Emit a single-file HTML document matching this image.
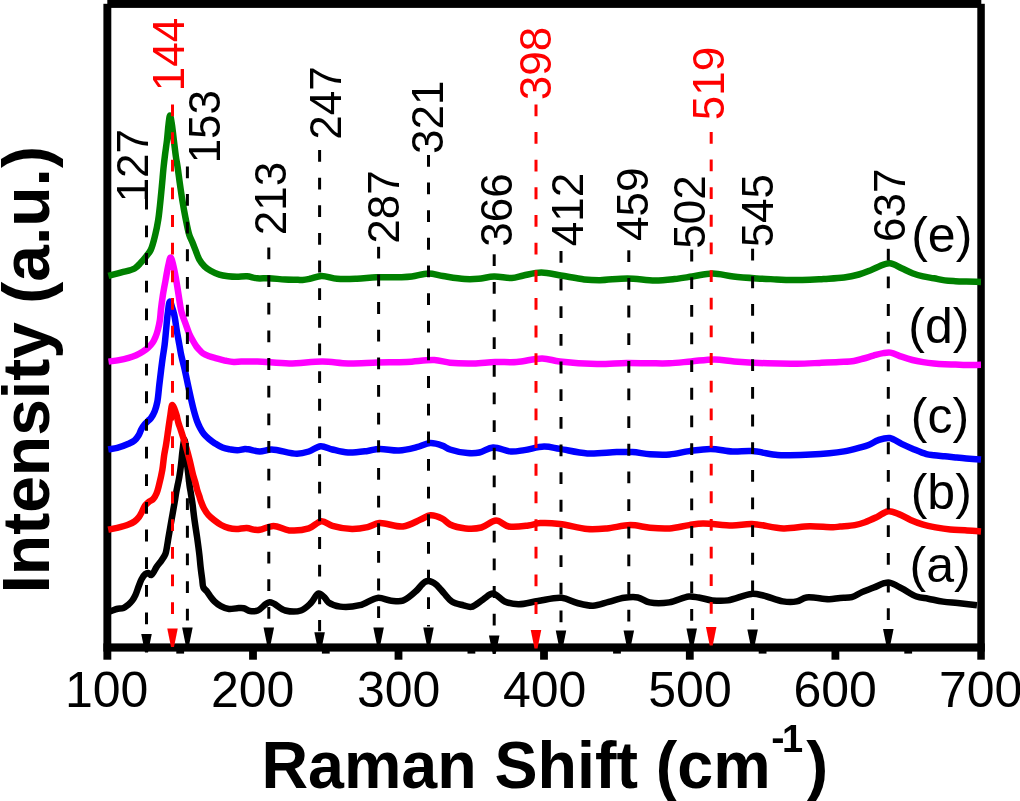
<!DOCTYPE html>
<html><head><meta charset="utf-8"><title>Raman spectra</title>
<style>html,body{margin:0;padding:0;background:#fff;}svg{display:block;}text{font-family:"Liberation Sans",sans-serif;}</style></head>
<body><svg width="1020" height="801" viewBox="0 0 1020 801">
<rect width="1020" height="801" fill="#fff"/>
<g id="frame"><rect x="107.3" y="-1" width="874" height="8.9" fill="#000"/><rect x="103.4" y="3.8" width="7.9" height="655.9" fill="#000"/><rect x="977.3" y="3.8" width="7.5" height="655.9" fill="#000"/><rect x="103.4" y="643.4" width="881.4" height="8.2" fill="#000"/><rect x="249.10" y="648" width="7.8" height="11.7" fill="#000"/><rect x="394.60" y="648" width="7.8" height="11.7" fill="#000"/><rect x="540.10" y="648" width="7.8" height="11.7" fill="#000"/><rect x="685.90" y="648" width="7.8" height="11.7" fill="#000"/><rect x="831.50" y="648" width="7.8" height="11.7" fill="#000"/><rect x="176.30" y="648" width="7.8" height="5.6" fill="#000"/><rect x="321.90" y="648" width="7.8" height="5.6" fill="#000"/><rect x="467.50" y="648" width="7.8" height="5.6" fill="#000"/><rect x="613.10" y="648" width="7.8" height="5.6" fill="#000"/><rect x="758.70" y="648" width="7.8" height="5.6" fill="#000"/><rect x="904.30" y="648" width="7.8" height="5.6" fill="#000"/></g>
<g id="curves"><path d="M106.50,612.00 C108.17,611.63 109.83,611.39 111.50,610.90 C113.23,610.40 114.83,609.49 116.70,609.00 C118.79,608.45 121.54,608.67 123.50,607.90 C125.24,607.22 126.57,606.09 128.00,604.90 C129.55,603.62 131.16,602.04 132.40,600.40 C133.61,598.80 134.48,597.17 135.40,595.20 C136.51,592.82 137.38,589.66 138.40,587.00 C139.38,584.44 140.18,581.72 141.40,579.50 C142.49,577.51 143.84,575.24 145.20,574.20 C146.15,573.48 147.22,573.00 148.20,573.10 C149.25,573.20 150.25,575.24 151.30,575.00 C153.02,574.61 154.79,569.47 156.60,566.90 C158.33,564.45 160.37,562.18 161.90,559.90 C163.25,557.89 164.54,556.19 165.40,554.00 C166.34,551.60 166.59,548.72 167.10,546.00 C167.63,543.19 167.94,540.76 168.50,537.40 C169.30,532.61 170.49,525.81 171.50,520.00 C172.52,514.17 173.75,507.53 174.60,502.50 C175.24,498.71 175.64,495.59 176.20,492.50 C176.68,489.82 177.19,487.54 177.70,485.00 C178.22,482.38 178.80,479.94 179.30,477.00 C179.91,473.41 180.48,469.23 181.00,465.00 C181.59,460.28 181.97,454.55 182.60,450.00 C183.13,446.18 183.82,439.50 184.40,439.50 C184.98,439.50 185.63,446.07 186.10,450.00 C186.69,454.98 186.94,462.39 187.40,467.00 C187.72,470.17 188.07,472.18 188.40,475.00 C188.77,478.15 189.07,481.86 189.50,485.00 C189.88,487.82 190.35,490.22 190.80,493.00 C191.29,496.03 191.78,498.85 192.30,502.50 C193.00,507.44 193.70,514.18 194.50,520.00 C195.30,525.81 196.28,531.58 197.10,537.40 C197.92,543.25 198.79,549.66 199.40,555.00 C199.91,559.43 200.13,563.14 200.60,567.20 C201.07,571.27 201.69,575.75 202.20,579.40 C202.62,582.38 202.40,585.38 203.40,587.50 C204.21,589.22 205.87,590.06 207.00,591.50 C208.18,593.01 209.10,594.80 210.30,596.40 C211.55,598.07 212.78,599.76 214.40,601.30 C216.21,603.02 218.43,604.83 220.80,606.10 C223.27,607.42 226.24,608.66 229.00,609.00 C231.67,609.32 234.55,608.33 237.10,608.20 C239.38,608.09 241.49,607.76 243.60,608.20 C245.79,608.66 247.71,610.60 250.00,611.00 C252.42,611.43 255.07,611.45 257.80,610.50 C261.50,609.21 265.30,602.57 269.60,602.30 C274.38,602.00 279.90,609.17 285.30,610.50 C290.38,611.75 296.58,611.97 301.00,610.50 C304.90,609.21 307.88,606.03 310.80,603.20 C313.76,600.34 316.00,593.80 318.60,593.40 C320.56,593.10 322.83,595.86 324.50,597.40 C326.06,598.85 326.49,600.92 328.40,602.30 C331.11,604.25 335.69,605.97 340.20,606.60 C345.84,607.39 353.55,606.67 359.80,605.20 C365.97,603.75 371.90,598.43 377.50,597.90 C382.29,597.45 386.79,600.25 391.20,600.70 C395.23,601.11 399.05,601.97 402.90,600.70 C407.57,599.16 413.40,593.54 416.70,590.50 C418.85,588.51 419.98,586.55 421.50,585.00 C422.72,583.75 423.75,582.46 425.00,581.80 C426.07,581.23 427.25,580.98 428.40,581.00 C429.59,581.02 430.81,581.47 432.00,582.00 C433.34,582.59 434.81,583.55 436.00,584.50 C437.13,585.40 437.89,586.31 439.00,587.50 C440.50,589.12 442.19,591.31 444.10,593.40 C446.37,595.89 448.68,599.43 451.80,601.40 C455.09,603.48 459.96,604.35 463.50,605.30 C466.37,606.06 468.62,607.42 471.40,606.90 C475.05,606.22 479.36,601.73 483.10,599.40 C486.50,597.29 489.51,593.42 492.90,593.50 C496.68,593.59 500.43,599.60 504.70,601.40 C508.94,603.19 513.41,604.20 518.40,604.30 C524.34,604.42 531.15,602.04 538.00,601.00 C545.49,599.86 554.60,597.15 561.60,597.80 C567.43,598.34 572.02,601.68 577.30,603.00 C582.49,604.30 587.80,605.89 593.00,605.70 C598.23,605.50 603.39,603.11 608.60,601.80 C613.83,600.48 619.23,598.49 624.30,597.80 C628.93,597.17 633.53,596.70 637.80,597.50 C641.95,598.28 645.07,601.50 649.60,602.40 C655.21,603.52 662.74,603.35 669.20,602.40 C675.81,601.43 683.34,597.02 688.80,596.50 C692.59,596.14 695.07,596.95 698.60,597.50 C702.82,598.16 707.63,599.90 712.40,600.40 C717.41,600.92 722.32,601.17 728.00,600.40 C735.11,599.44 745.06,594.33 751.60,593.90 C756.14,593.60 758.94,594.55 763.30,595.50 C769.04,596.75 776.88,600.51 782.90,601.40 C787.84,602.13 792.56,602.19 796.70,601.40 C800.32,600.71 802.47,598.12 806.50,597.50 C812.42,596.59 823.03,599.34 829.20,599.20 C833.47,599.10 836.32,598.23 840.00,597.90 C843.84,597.56 848.10,598.19 851.80,597.20 C855.43,596.23 858.44,593.67 862.00,592.10 C865.75,590.45 870.01,589.13 873.80,587.60 C877.36,586.16 881.17,583.97 884.10,583.20 C886.14,582.66 887.39,582.25 889.50,582.60 C892.83,583.15 897.55,586.23 901.80,588.40 C906.52,590.81 911.75,594.79 916.50,596.50 C920.50,597.94 924.07,597.91 928.20,598.70 C932.85,599.59 938.07,600.86 943.00,601.60 C947.87,602.33 952.39,602.54 957.60,603.10 C963.61,603.75 970.53,604.57 977.00,605.30" fill="none" stroke="#000" stroke-width="6.5" stroke-linejoin="round" stroke-linecap="butt"/><path d="M108.20,529.70 C111.20,529.07 114.05,528.59 117.20,527.80 C120.77,526.90 125.37,525.73 128.50,524.50 C130.86,523.57 132.73,522.77 134.50,521.50 C136.22,520.26 137.74,518.65 139.00,517.00 C140.23,515.38 141.02,513.53 142.00,511.70 C143.03,509.77 143.79,507.38 145.00,505.70 C146.07,504.22 147.35,503.11 148.70,502.00 C150.08,500.87 151.93,500.33 153.20,499.00 C154.58,497.55 155.58,495.60 156.50,493.50 C157.58,491.03 158.17,488.25 159.00,485.00 C160.10,480.72 161.43,475.02 162.30,470.00 C163.16,465.02 163.51,459.49 164.20,455.00 C164.76,451.32 165.40,448.68 166.00,445.00 C166.73,440.51 167.47,435.00 168.20,430.00 C168.93,425.00 169.64,419.49 170.40,415.00 C171.02,411.32 171.39,405.14 172.30,405.00 C172.91,404.90 173.84,407.50 174.50,409.00 C175.27,410.77 175.89,412.87 176.50,415.00 C177.17,417.35 177.59,420.02 178.30,422.50 C179.02,425.02 179.85,427.07 180.80,430.00 C182.14,434.14 184.03,439.99 185.50,445.00 C186.96,449.99 188.33,454.99 189.60,460.00 C190.86,464.99 191.98,470.79 193.10,475.00 C193.93,478.10 194.80,480.41 195.50,483.00 C196.15,485.40 196.54,487.77 197.20,490.00 C197.82,492.09 198.65,494.04 199.30,496.00 C199.92,497.87 200.29,499.58 201.00,501.50 C201.81,503.71 202.77,506.25 204.00,508.50 C205.26,510.82 206.74,513.21 208.50,515.20 C210.24,517.17 212.40,518.77 214.50,520.40 C216.63,522.04 218.83,523.73 221.20,525.00 C223.56,526.26 226.16,527.32 228.70,528.00 C231.16,528.66 233.49,529.04 236.20,529.10 C239.40,529.17 243.42,527.82 246.70,528.00 C249.64,528.16 252.60,529.54 255.00,529.80 C256.81,529.99 257.81,530.08 259.80,529.80 C263.22,529.32 268.78,525.90 273.50,525.90 C278.56,525.90 283.63,529.90 289.20,530.40 C295.32,530.94 303.12,530.20 308.80,528.40 C313.70,526.85 317.46,521.41 321.60,521.20 C325.30,521.01 328.18,524.67 332.40,525.90 C337.88,527.50 345.83,528.89 352.00,529.00 C357.49,529.10 362.81,528.19 367.60,527.10 C371.86,526.13 374.74,523.53 379.40,523.10 C385.84,522.51 395.72,527.32 402.90,526.50 C409.32,525.76 415.58,521.68 420.60,519.60 C424.36,518.04 426.94,515.54 430.40,515.30 C434.11,515.04 438.81,516.92 442.20,518.60 C445.23,520.10 446.76,522.95 450.00,524.50 C454.17,526.49 460.43,527.91 465.70,528.40 C470.90,528.89 476.37,528.77 481.40,527.50 C486.51,526.21 491.38,520.61 496.10,520.60 C500.49,520.59 503.98,525.56 508.80,526.50 C514.51,527.61 522.71,526.22 528.40,525.50 C532.85,524.94 535.75,523.46 540.20,523.10 C545.88,522.64 552.75,523.11 559.80,523.90 C568.22,524.85 578.88,528.36 587.30,529.00 C594.35,529.54 600.09,528.98 606.90,528.40 C614.39,527.76 622.92,525.11 630.40,525.10 C637.23,525.09 643.45,527.25 650.00,527.80 C656.52,528.35 663.09,528.84 669.60,528.40 C676.16,527.95 683.24,525.95 689.20,525.10 C694.16,524.39 697.46,523.63 702.90,523.50 C710.86,523.31 723.57,525.56 732.40,525.50 C739.60,525.45 744.72,523.68 752.00,523.90 C761.23,524.18 773.30,528.08 783.30,528.40 C792.43,528.69 801.08,526.46 809.60,526.30 C817.65,526.15 827.60,527.46 833.10,527.30 C836.09,527.21 837.27,526.88 840.00,526.60 C843.98,526.19 850.27,525.94 854.70,525.10 C858.47,524.38 861.49,523.45 865.00,522.20 C868.84,520.83 872.90,518.92 876.80,517.10 C880.74,515.26 884.65,511.57 888.50,511.20 C891.98,510.86 895.32,512.75 898.80,514.10 C902.67,515.60 906.62,518.27 910.60,520.00 C914.49,521.69 918.31,523.18 922.40,524.40 C926.64,525.66 931.07,526.55 935.60,527.40 C940.35,528.29 945.39,529.12 950.30,529.60 C955.19,530.08 960.00,529.99 965.00,530.30 C970.22,530.62 975.67,531.10 981.00,531.50" fill="none" stroke="#f00" stroke-width="6.5" stroke-linejoin="round" stroke-linecap="butt"/><path d="M108.20,449.40 C111.20,448.90 114.07,448.72 117.20,447.90 C120.79,446.96 125.37,445.22 128.50,443.80 C130.86,442.73 132.82,441.92 134.50,440.50 C136.13,439.13 137.36,437.35 138.50,435.50 C139.71,433.54 140.42,430.93 141.50,429.00 C142.44,427.32 143.39,425.86 144.50,424.50 C145.56,423.20 146.88,422.12 148.00,421.00 C149.04,419.96 150.04,419.29 151.00,418.00 C152.30,416.26 153.68,413.70 154.70,411.20 C155.83,408.42 156.59,405.57 157.30,402.00 C158.25,397.23 158.65,390.49 159.30,385.00 C159.91,379.84 160.50,374.82 161.10,370.00 C161.66,365.51 162.20,361.24 162.80,357.00 C163.37,352.92 164.07,349.23 164.60,345.00 C165.19,340.29 165.58,335.16 166.10,330.00 C166.65,324.51 167.08,318.10 167.80,313.00 C168.40,308.78 169.01,301.58 169.90,301.50 C170.59,301.44 171.57,305.78 172.30,308.00 C173.04,310.28 173.68,312.21 174.30,315.00 C175.20,319.04 175.85,325.00 176.70,330.00 C177.55,335.00 178.59,340.51 179.40,345.00 C180.06,348.67 180.43,351.34 181.20,355.00 C182.15,359.51 183.67,364.99 184.80,370.00 C185.93,374.99 186.92,380.00 188.00,385.00 C189.08,390.00 190.23,395.37 191.30,400.00 C192.22,404.01 193.02,407.61 194.00,411.20 C194.93,414.59 195.90,418.07 197.00,421.00 C197.93,423.48 198.87,425.56 200.00,427.70 C201.11,429.79 202.23,431.84 203.70,433.70 C205.22,435.62 207.11,437.38 209.00,439.00 C210.88,440.61 212.84,442.01 215.00,443.40 C217.32,444.89 219.93,446.59 222.50,447.60 C224.94,448.55 227.50,448.95 230.00,449.40 C232.46,449.84 234.92,450.36 237.40,450.30 C239.92,450.24 242.98,449.08 245.00,449.00 C246.32,448.95 246.87,449.10 248.30,449.30 C250.98,449.68 255.94,451.46 259.80,451.50 C263.70,451.54 266.92,449.50 271.60,449.50 C278.46,449.50 290.14,453.89 297.00,453.80 C301.68,453.74 304.94,452.73 308.80,451.50 C312.81,450.23 316.61,446.50 320.60,446.20 C324.48,445.91 328.17,448.50 332.40,449.50 C337.22,450.63 342.48,452.20 348.00,452.50 C354.14,452.83 361.90,451.61 367.60,450.90 C372.04,450.34 374.96,449.09 379.40,448.90 C385.10,448.65 392.65,450.83 399.00,450.50 C405.07,450.19 411.21,448.55 416.70,447.20 C421.60,446.00 425.98,443.18 430.40,443.00 C434.46,442.84 438.74,444.37 442.20,445.60 C445.14,446.64 446.79,448.40 450.00,449.50 C454.61,451.08 462.30,452.59 467.60,453.00 C471.90,453.33 475.38,453.30 479.40,452.50 C483.86,451.61 488.19,447.81 493.10,447.50 C498.57,447.15 505.25,451.17 510.80,451.50 C515.63,451.79 519.54,450.80 524.50,450.10 C530.46,449.26 537.92,446.70 544.10,446.60 C549.62,446.51 553.84,447.98 559.80,448.90 C567.69,450.12 577.95,452.85 587.30,453.40 C596.91,453.97 608.42,452.28 616.70,452.10 C622.75,451.97 627.03,451.78 632.40,452.10 C638.11,452.44 643.96,453.81 650.00,454.20 C656.35,454.61 663.09,454.91 669.60,454.40 C676.16,453.89 682.49,452.01 689.20,451.10 C696.21,450.15 703.60,448.83 710.80,448.90 C718.00,448.97 725.36,451.15 732.40,451.50 C739.08,451.83 745.06,450.64 752.00,451.10 C759.96,451.62 770.48,454.41 777.50,455.00 C782.39,455.41 784.67,455.29 790.00,455.20 C799.47,455.05 819.45,454.18 829.40,453.30 C835.50,452.76 839.22,452.29 844.10,451.40 C849.02,450.50 854.41,449.07 858.80,447.90 C862.41,446.94 865.39,446.27 868.60,445.00 C871.93,443.69 874.93,441.26 878.40,440.10 C881.95,438.91 885.97,437.48 889.70,438.00 C893.71,438.56 897.71,442.07 901.60,443.90 C905.27,445.62 908.55,447.10 912.40,448.70 C916.74,450.50 922.41,453.05 926.40,454.10 C929.24,454.85 931.17,454.86 933.90,455.20 C937.17,455.61 941.10,455.93 944.70,456.30 C948.30,456.67 951.90,457.05 955.50,457.40 C959.10,457.75 962.42,458.08 966.30,458.40 C970.82,458.78 976.10,459.13 981.00,459.50" fill="none" stroke="#00f" stroke-width="6.5" stroke-linejoin="round" stroke-linecap="butt"/><path d="M108.50,361.60 C112.00,361.10 115.58,360.75 119.00,360.10 C122.31,359.47 125.69,358.67 128.70,357.80 C131.38,357.02 133.80,356.26 136.20,355.20 C138.57,354.15 140.92,352.81 143.00,351.50 C144.89,350.30 146.61,349.17 148.20,347.70 C149.85,346.18 151.46,344.34 152.70,342.50 C153.87,340.76 154.68,338.98 155.50,337.00 C156.40,334.84 157.11,332.56 157.80,330.00 C158.61,326.98 159.38,323.35 159.90,320.00 C160.41,316.68 160.47,313.67 160.90,310.00 C161.42,305.50 162.12,299.99 162.90,295.00 C163.68,289.99 164.68,285.00 165.60,280.00 C166.52,275.00 167.41,269.12 168.40,265.00 C169.11,262.05 169.80,257.52 170.60,257.50 C171.40,257.48 172.39,262.04 173.20,265.00 C174.32,269.11 175.30,274.99 176.20,280.00 C177.10,284.99 177.80,290.00 178.60,295.00 C179.40,300.00 180.20,306.36 181.00,310.00 C181.47,312.13 181.79,313.09 182.40,315.00 C183.25,317.66 184.66,321.27 185.80,324.40 C186.94,327.52 188.02,330.98 189.25,333.75 C190.28,336.08 191.34,337.93 192.50,340.00 C193.68,342.10 194.97,344.48 196.25,346.25 C197.31,347.71 198.37,348.80 199.50,350.00 C200.62,351.19 201.56,352.42 203.00,353.40 C204.70,354.56 207.14,355.46 209.25,356.25 C211.31,357.02 213.39,357.51 215.50,358.10 C217.64,358.70 220.07,359.32 222.00,359.80 C223.55,360.19 224.59,360.49 226.20,360.80 C228.33,361.21 231.19,361.77 233.70,361.90 C236.19,362.03 238.23,361.67 241.20,361.60 C245.55,361.50 251.03,361.33 257.30,361.50 C266.14,361.74 278.45,363.39 289.20,363.40 C300.18,363.41 312.14,361.41 322.50,361.50 C331.57,361.58 339.19,363.21 348.00,363.40 C357.47,363.61 367.67,362.73 377.50,362.50 C387.31,362.27 397.28,362.42 406.90,362.00 C416.20,361.60 426.45,359.73 434.30,360.10 C440.28,360.38 444.22,362.14 450.00,362.70 C457.03,363.38 465.83,363.53 473.50,363.40 C480.85,363.27 487.90,362.23 495.10,362.00 C502.30,361.77 509.22,362.51 516.70,362.00 C524.87,361.44 534.49,358.38 542.20,358.50 C548.62,358.60 552.82,360.67 559.80,361.50 C569.88,362.69 585.31,363.81 597.00,364.00 C607.40,364.17 617.22,363.10 626.50,363.00 C634.78,362.91 642.52,363.25 650.00,363.30 C656.83,363.34 662.91,363.59 669.60,363.30 C676.63,362.99 683.85,362.04 691.20,361.40 C698.87,360.74 707.22,359.34 714.70,359.40 C721.53,359.46 726.90,360.81 734.30,361.40 C743.93,362.17 756.84,362.92 767.60,363.30 C777.70,363.66 787.84,363.80 797.00,363.70 C805.03,363.61 812.34,363.20 819.60,362.90 C826.37,362.62 833.14,362.35 839.20,362.00 C844.45,361.70 849.52,361.70 853.90,361.00 C857.53,360.42 860.44,359.40 863.70,358.50 C866.98,357.60 870.22,356.50 873.50,355.60 C876.76,354.70 880.26,353.59 883.30,353.10 C885.86,352.69 887.89,352.23 890.50,352.60 C893.85,353.08 897.91,355.46 901.60,356.70 C905.21,357.92 908.79,359.10 912.40,360.00 C915.95,360.89 919.52,361.52 923.10,362.10 C926.68,362.68 930.29,363.13 933.90,363.50 C937.49,363.87 941.10,364.12 944.70,364.30 C948.30,364.48 951.90,364.48 955.50,364.60 C959.10,364.72 962.42,364.95 966.30,365.00 C970.82,365.05 976.10,364.87 981.00,364.80" fill="none" stroke="#f0f" stroke-width="6.5" stroke-linejoin="round" stroke-linecap="butt"/><path d="M108.40,275.90 C112.77,274.73 117.14,273.63 121.50,272.40 C125.88,271.16 131.22,270.43 134.60,268.50 C137.24,266.99 138.80,264.79 140.70,262.80 C142.56,260.85 144.24,258.82 145.90,256.70 C147.58,254.55 149.32,252.82 150.70,250.00 C152.61,246.11 153.95,240.03 155.20,235.00 C156.44,230.03 157.40,225.02 158.20,220.00 C159.00,215.02 159.45,210.00 160.00,205.00 C160.55,200.00 161.10,194.14 161.50,190.00 C161.78,187.07 161.93,185.45 162.20,182.50 C162.59,178.26 163.10,171.83 163.60,167.00 C164.04,162.74 164.47,159.22 165.00,155.00 C165.59,150.28 166.41,145.09 167.00,140.00 C167.61,134.76 168.01,128.49 168.60,124.00 C169.03,120.71 169.47,115.52 170.00,115.50 C170.48,115.49 171.09,119.63 171.60,122.50 C172.40,127.00 173.07,134.18 173.80,140.00 C174.53,145.81 175.28,152.46 176.00,157.40 C176.54,161.08 177.06,163.41 177.60,167.00 C178.29,171.55 178.94,177.18 179.70,182.50 C180.50,188.16 181.35,194.18 182.30,200.00 C183.25,205.82 184.24,211.60 185.40,217.40 C186.57,223.26 187.87,230.55 189.30,235.00 C190.21,237.85 191.20,239.38 192.20,241.80 C193.33,244.54 194.53,247.68 195.70,250.60 C196.86,253.51 197.70,256.65 199.20,259.30 C200.65,261.87 202.51,264.36 204.50,266.30 C206.34,268.10 208.31,269.38 210.60,270.70 C213.18,272.19 216.35,273.66 219.30,274.60 C222.15,275.50 225.08,275.93 228.00,276.30 C230.91,276.67 233.76,276.79 236.80,276.80 C240.07,276.81 243.61,276.06 247.00,276.30 C250.44,276.55 253.77,277.98 257.30,278.30 C260.96,278.64 264.49,278.06 268.60,278.20 C273.56,278.37 279.85,279.24 285.00,279.50 C289.58,279.73 294.79,279.69 298.00,279.80 C299.89,279.86 300.83,280.10 302.50,280.00 C304.65,279.87 307.09,279.36 309.80,278.80 C313.28,278.09 317.39,276.02 321.60,275.90 C326.38,275.77 331.51,278.29 337.00,278.80 C343.18,279.38 350.30,279.05 356.90,278.80 C363.46,278.55 369.67,277.58 376.50,277.30 C383.97,277.00 393.50,277.41 400.00,277.20 C404.61,277.05 407.55,277.01 411.80,276.50 C416.88,275.89 423.04,273.52 428.40,273.50 C433.42,273.48 437.65,275.17 443.00,276.00 C449.51,277.01 458.28,278.61 464.70,279.00 C469.78,279.31 473.69,279.18 478.40,278.80 C483.47,278.39 488.70,276.66 494.10,276.50 C499.81,276.33 506.53,278.33 511.80,278.00 C516.12,277.73 519.19,276.33 523.50,275.50 C528.78,274.49 535.15,272.55 541.20,272.50 C547.56,272.45 553.97,274.41 560.80,275.50 C568.28,276.69 577.23,278.64 584.30,279.40 C590.04,280.02 594.04,280.24 600.00,280.20 C607.89,280.14 618.34,278.37 627.50,278.40 C636.64,278.43 646.53,280.39 654.90,280.40 C661.98,280.41 668.14,279.68 674.50,279.00 C680.56,278.36 686.08,277.38 692.20,276.50 C698.78,275.55 705.86,273.50 712.70,273.50 C719.56,273.50 726.19,275.70 733.30,276.50 C740.89,277.36 749.39,277.91 756.90,278.40 C763.73,278.85 770.57,279.10 776.50,279.40 C781.42,279.65 784.63,280.04 790.00,280.10 C797.92,280.18 813.64,279.46 819.40,279.20 C821.80,279.09 822.25,279.05 824.50,278.90 C828.91,278.61 838.06,278.33 844.10,277.50 C849.38,276.78 854.43,275.70 858.80,274.50 C862.43,273.50 865.36,272.39 868.60,271.10 C871.90,269.79 874.97,267.98 878.40,266.70 C881.99,265.36 885.92,263.10 889.70,263.30 C893.65,263.51 897.74,266.61 901.60,268.30 C905.30,269.92 908.76,271.84 912.40,273.20 C915.93,274.52 919.50,275.55 923.10,276.40 C926.67,277.24 930.30,277.63 933.90,278.30 C937.50,278.97 941.09,279.92 944.70,280.40 C948.29,280.88 951.90,281.00 955.50,281.20 C959.10,281.40 962.42,281.48 966.30,281.60 C970.82,281.75 976.10,281.87 981.00,282.00" fill="none" stroke="#008000" stroke-width="6.5" stroke-linejoin="round" stroke-linecap="butt"/></g>
<g id="dashes"><line x1="146.5" y1="197.8" x2="146.5" y2="633.1" stroke="#000" stroke-width="3" stroke-dasharray="11.8 15.85"/><polygon points="141.25,634.1 151.75,634.1 148.00,652.6 145.00,652.6" fill="#000"/><line x1="172.5" y1="104.5" x2="172.5" y2="627.5" stroke="#f00" stroke-width="3" stroke-dasharray="11.8 15.85"/><polygon points="167.25,628.5 177.75,628.5 174.00,647.0 171.00,647.0" fill="#f00"/><line x1="187.4" y1="166.4" x2="187.4" y2="626.4" stroke="#000" stroke-width="3" stroke-dasharray="11.8 15.85"/><polygon points="182.15,627.4 192.65,627.4 188.90,645.9 185.90,645.9" fill="#000"/><line x1="268.8" y1="247.5" x2="268.8" y2="626.5" stroke="#000" stroke-width="3" stroke-dasharray="11.8 15.85"/><polygon points="263.55,627.5 274.05,627.5 270.30,646.0 267.30,646.0" fill="#000"/><line x1="319.6" y1="150" x2="319.6" y2="631.2" stroke="#000" stroke-width="3" stroke-dasharray="11.8 15.85"/><polygon points="314.35,632.2 324.85,632.2 321.10,650.7 318.10,650.7" fill="#000"/><line x1="378.6" y1="246.8" x2="378.6" y2="626.5" stroke="#000" stroke-width="3" stroke-dasharray="11.8 15.85"/><polygon points="373.35,627.5 383.85,627.5 380.10,646.0 377.10,646.0" fill="#000"/><line x1="428.5" y1="154.9" x2="428.5" y2="626.5" stroke="#000" stroke-width="3" stroke-dasharray="11.8 15.85"/><polygon points="423.25,627.5 433.75,627.5 430.00,646.0 427.00,646.0" fill="#000"/><line x1="494.2" y1="254.3" x2="494.2" y2="634.5" stroke="#000" stroke-width="3" stroke-dasharray="11.8 15.85"/><polygon points="488.95,635.5 499.45,635.5 495.70,654.0 492.70,654.0" fill="#000"/><line x1="536" y1="104.4" x2="536" y2="629" stroke="#f00" stroke-width="3" stroke-dasharray="11.8 15.85"/><polygon points="530.75,630 541.25,630 537.50,648.5 534.50,648.5" fill="#f00"/><line x1="561" y1="251" x2="561" y2="629.5" stroke="#000" stroke-width="3" stroke-dasharray="11.8 15.85"/><polygon points="555.75,630.5 566.25,630.5 562.50,649.0 559.50,649.0" fill="#000"/><line x1="628.8" y1="250.3" x2="628.8" y2="629.5" stroke="#000" stroke-width="3" stroke-dasharray="11.8 15.85"/><polygon points="623.55,630.5 634.05,630.5 630.30,649.0 627.30,649.0" fill="#000"/><line x1="691.7" y1="249.6" x2="691.7" y2="627.6" stroke="#000" stroke-width="3" stroke-dasharray="11.8 15.85"/><polygon points="686.45,628.6 696.95,628.6 693.20,647.1 690.20,647.1" fill="#000"/><line x1="711.2" y1="131.9" x2="711.2" y2="626" stroke="#f00" stroke-width="3" stroke-dasharray="11.8 15.85"/><polygon points="705.95,627 716.45,627 712.70,645.5 709.70,645.5" fill="#f00"/><line x1="752.6" y1="248.7" x2="752.6" y2="628.5" stroke="#000" stroke-width="3" stroke-dasharray="11.8 15.85"/><polygon points="747.35,629.5 757.85,629.5 754.10,648.0 751.10,648.0" fill="#000"/><line x1="888.3" y1="248.8" x2="888.3" y2="628" stroke="#000" stroke-width="3" stroke-dasharray="11.8 15.85"/><polygon points="883.05,629 893.55,629 889.80,647.5 886.80,647.5" fill="#000"/></g>
<g id="labels"><text x="64.90" y="706.85" font-size="50" font-weight="400" fill="#000">100</text><text x="211.00" y="706.85" font-size="50" font-weight="400" fill="#000">200</text><text x="357.00" y="706.85" font-size="50" font-weight="400" fill="#000">300</text><text x="503.00" y="706.85" font-size="50" font-weight="400" fill="#000">400</text><text x="648.30" y="706.85" font-size="50" font-weight="400" fill="#000">500</text><text x="793.40" y="706.85" font-size="50" font-weight="400" fill="#000">600</text><text x="939.00" y="706.85" font-size="50" font-weight="400" fill="#000">700</text><text x="148.30" y="202.35" font-size="44" font-weight="400" fill="#000" transform="rotate(-90 148.30 202.35)">127</text><text x="184.10" y="91.15" font-size="44" font-weight="400" fill="#f00" transform="rotate(-90 184.10 91.15)">144</text><text x="220.00" y="163.35" font-size="44" font-weight="400" fill="#000" transform="rotate(-90 220.00 163.35)">153</text><text x="286.25" y="235.25" font-size="44" font-weight="400" fill="#000" transform="rotate(-90 286.25 235.25)">213</text><text x="341.10" y="139.70" font-size="44" font-weight="400" fill="#000" transform="rotate(-90 341.10 139.70)">247</text><text x="398.55" y="243.80" font-size="44" font-weight="400" fill="#000" transform="rotate(-90 398.55 243.80)">287</text><text x="443.30" y="154.05" font-size="44" font-weight="400" fill="#000" transform="rotate(-90 443.30 154.05)">321</text><text x="511.85" y="246.80" font-size="44" font-weight="400" fill="#000" transform="rotate(-90 511.85 246.80)">366</text><text x="551.25" y="100.30" font-size="44" font-weight="400" fill="#f00" transform="rotate(-90 551.25 100.30)">398</text><text x="582.90" y="246.30" font-size="44" font-weight="400" fill="#000" transform="rotate(-90 582.90 246.30)">412</text><text x="647.95" y="240.90" font-size="44" font-weight="400" fill="#000" transform="rotate(-90 647.95 240.90)">459</text><text x="704.70" y="248.65" font-size="44" font-weight="400" fill="#000" transform="rotate(-90 704.70 248.65)">502</text><text x="724.15" y="120.25" font-size="44" font-weight="400" fill="#f00" transform="rotate(-90 724.15 120.25)">519</text><text x="772.70" y="247.35" font-size="44" font-weight="400" fill="#000" transform="rotate(-90 772.70 247.35)">545</text><text x="905.05" y="241.95" font-size="44" font-weight="400" fill="#000" transform="rotate(-90 905.05 241.95)">637</text><text x="911.20" y="252.30" font-size="50" font-weight="400" fill="#000">(e)</text><text x="908.25" y="343.25" font-size="50" font-weight="400" fill="#000">(d)</text><text x="910.85" y="433.25" font-size="50" font-weight="400" fill="#000">(c)</text><text x="910.70" y="509.30" font-size="50" font-weight="400" fill="#000">(b)</text><text x="909.60" y="582.05" font-size="50" font-weight="400" fill="#000">(a)</text><text x="48.90" y="593.48" font-size="66" font-weight="700" fill="#000" transform="rotate(-90 48.90 593.48)">Intensity (a.u.)</text><text x="261.39" y="788.00" font-size="66" font-weight="700" fill="#000" transform="translate(261.39 788.00) scale(0.9782 1) translate(-261.39 -788.00)">Raman Shift (cm</text><text x="771.15" y="751.35" font-size="38" font-weight="700" fill="#000" transform="translate(771.15 751.35) scale(1.0500 1) translate(-771.15 -751.35)">-</text><text x="781.95" y="751.75" font-size="38" font-weight="700" fill="#000">1</text><text x="806.30" y="788.10" font-size="66" font-weight="700" fill="#000">)</text></g>
</svg></body></html>
